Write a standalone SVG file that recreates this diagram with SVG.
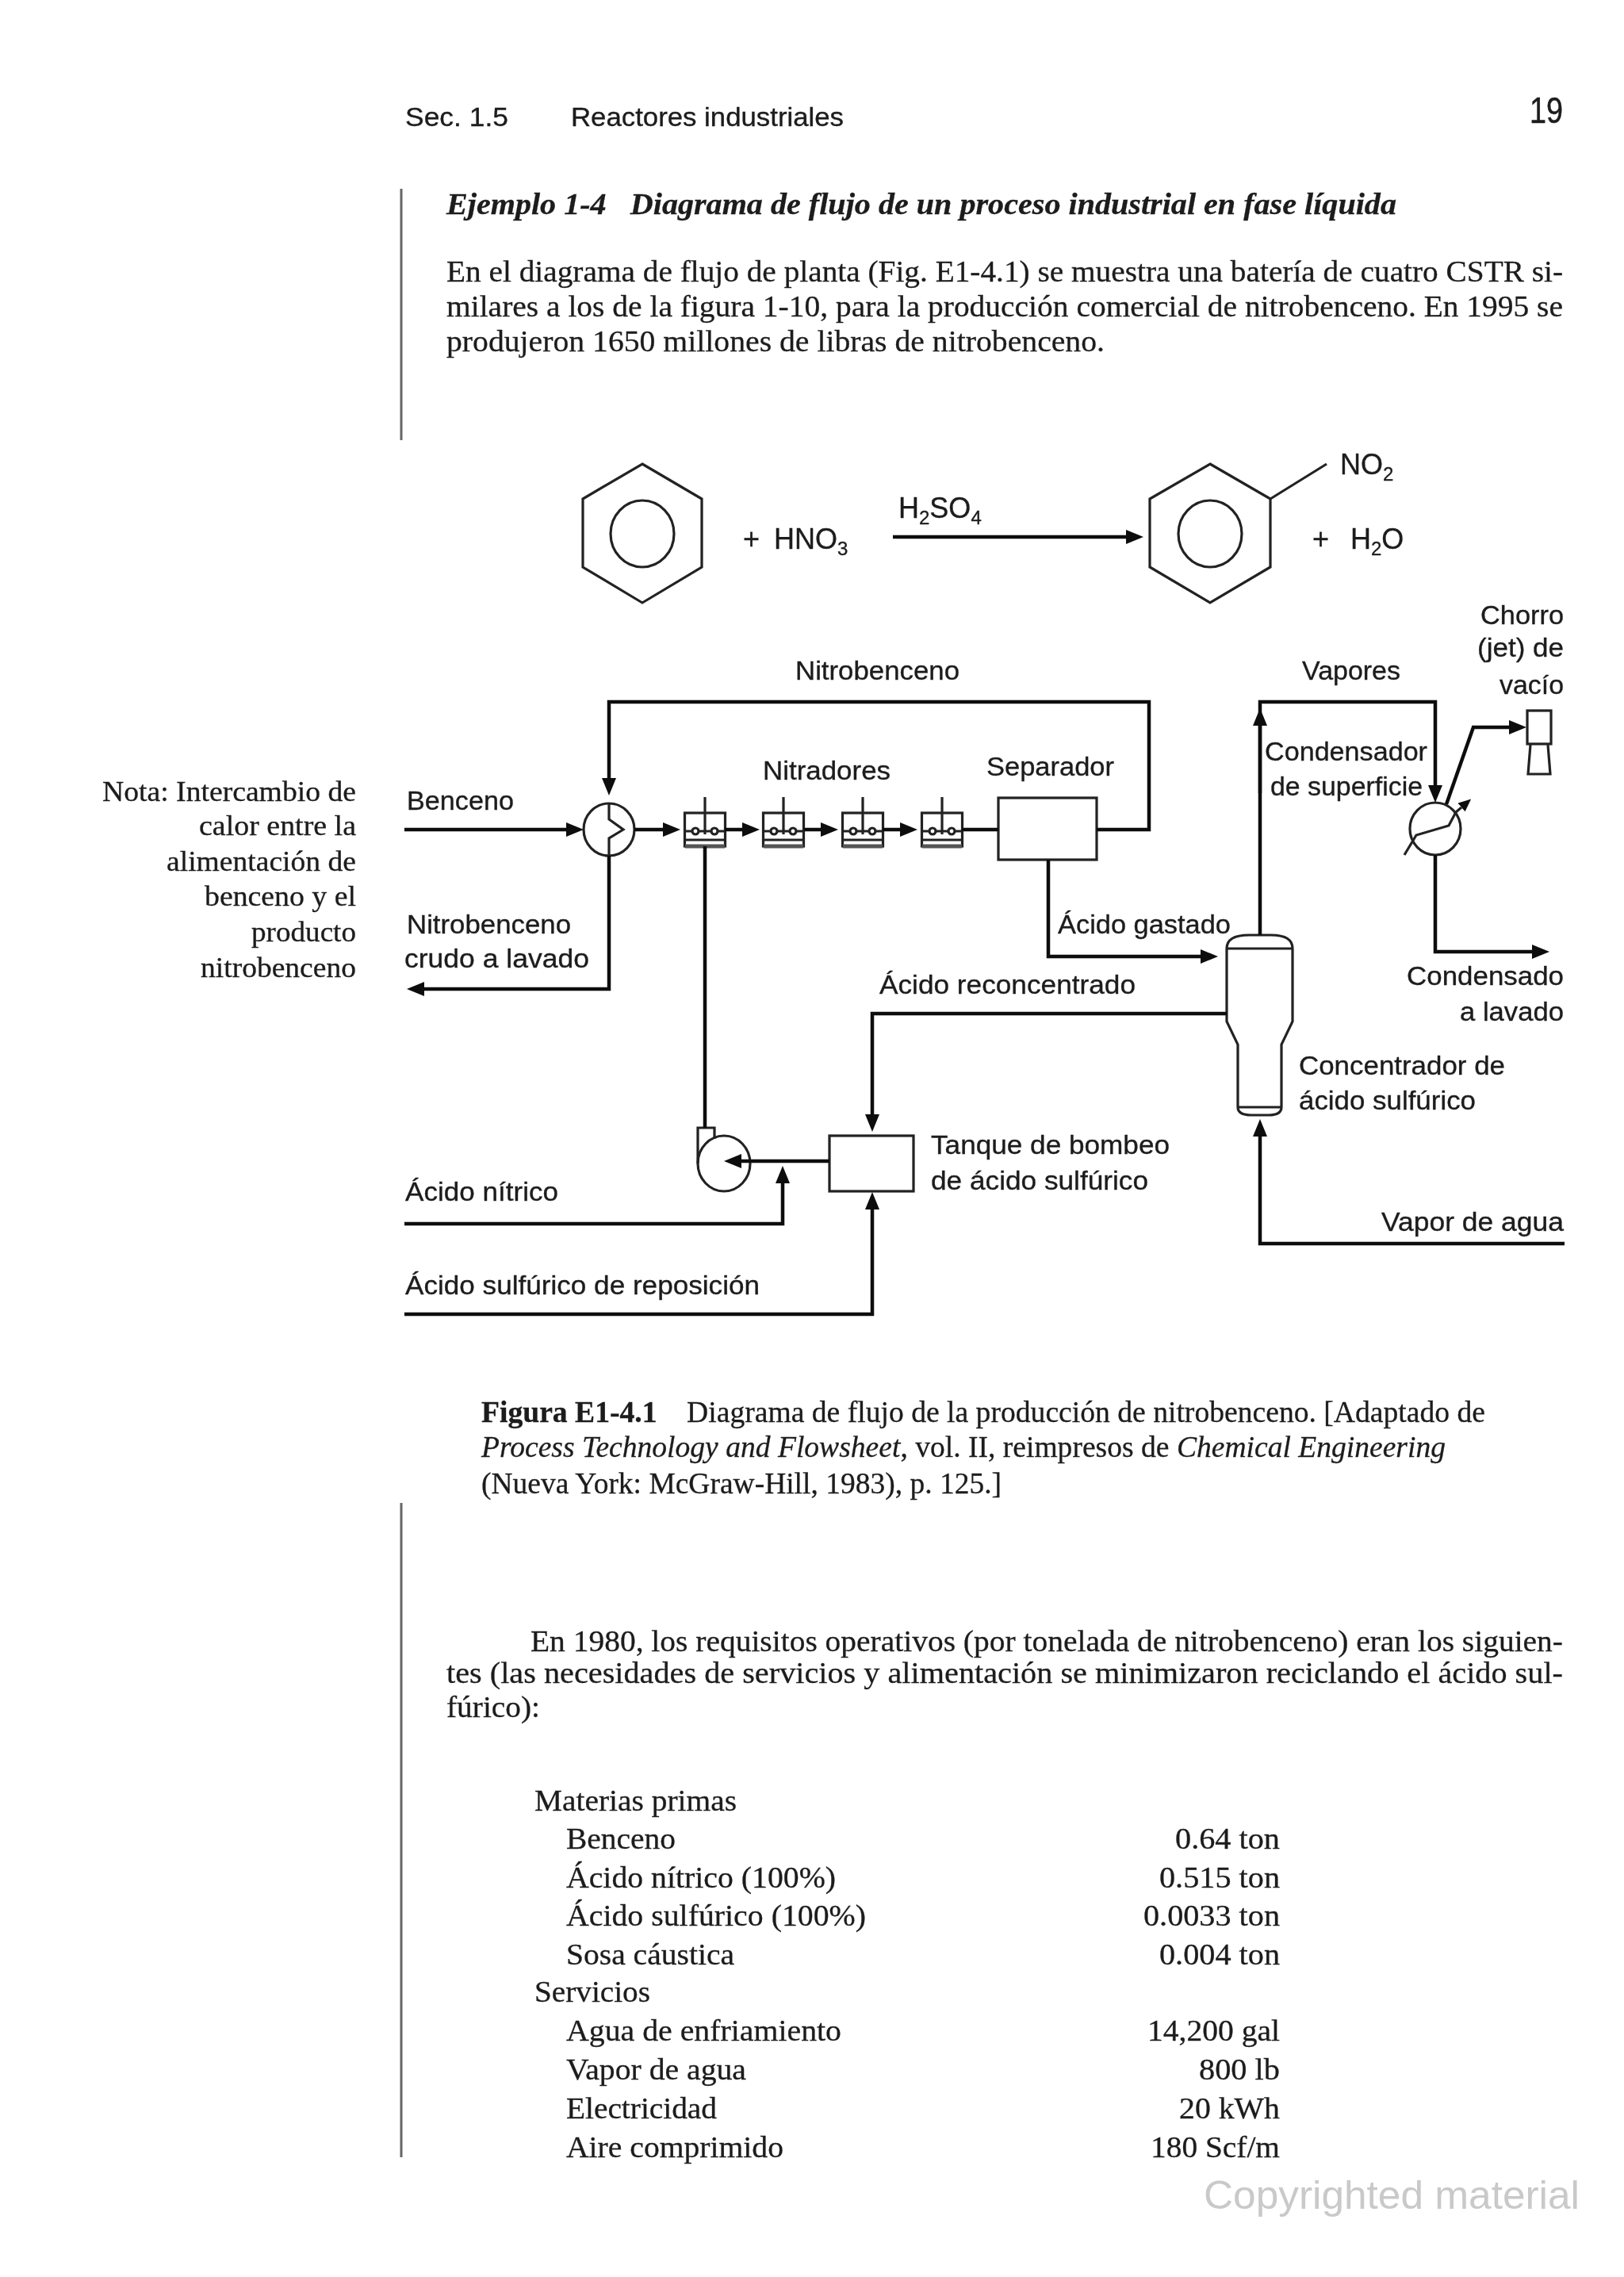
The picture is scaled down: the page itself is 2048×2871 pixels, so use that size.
<svg xmlns="http://www.w3.org/2000/svg" xmlns:xlink="http://www.w3.org/1999/xlink" width="2048" height="2871" viewBox="0 0 2048 2871">
<style>
text{fill:#1c1c1c}
.l{font-family:"Liberation Sans",Arial,sans-serif;font-size:33px;stroke:#1c1c1c;stroke-width:.35}
.h{font-family:"Liberation Sans",Arial,sans-serif;font-size:33px;stroke:#1c1c1c;stroke-width:.35}
.p{font-family:"Liberation Sans",Arial,sans-serif;font-size:46px;stroke:#1c1c1c;stroke-width:.5}
.x{font-size:36px}
.s{font-family:"Liberation Serif","Times New Roman",serif;font-size:38px;stroke:#1c1c1c;stroke-width:.3}
.n{font-family:"Liberation Serif","Times New Roman",serif;font-size:35px;stroke:#1c1c1c;stroke-width:.3}
.t{font-family:"Liberation Serif","Times New Roman",serif;font-size:37px;stroke:#1c1c1c;stroke-width:.3}
.c{font-family:"Liberation Sans",Arial,sans-serif;font-size:50px;fill:#c9c9c9}
.b{font-weight:bold}.i{font-style:italic}
.sub{font-size:24px}
.e{fill:none;stroke:#111;stroke-width:4.5;stroke-linejoin:miter}
.a{marker-end:url(#ah)}
.u{fill:#fff;stroke:#222;stroke-width:3.2}
.o{fill:none;stroke:#222;stroke-width:3.2}
.r{fill:none;stroke:#666;stroke-width:3}
.z{fill:none;stroke:#555;stroke-width:5}
</style>
<defs>
<filter id="soft" x="0" y="0" width="100%" height="100%"><feGaussianBlur stdDeviation="0.7"/></filter>
<marker id="ah" markerUnits="userSpaceOnUse" markerWidth="22" markerHeight="18" refX="0" refY="9" orient="auto"><polygon points="0,0 22,9 0,18" fill="#111"/></marker>
<marker id="sm" markerUnits="userSpaceOnUse" markerWidth="16" markerHeight="14" refX="0" refY="7" orient="auto"><polygon points="0,0 16,7 0,14" fill="#111"/></marker>
<g id="nitrator">
<rect x="-25.500" y="-21" width="51" height="42" class="o"/>
<path d="M0 -41V6M-25 2H-16M-8 2H8M16 2H25M-25 13H25" class="o"/>
<path d="M-25 21H25" class="z"/>
<circle cx="-12" cy="2" r="4" class="o"/><circle cx="12" cy="2" r="4" class="o"/>
</g>
</defs>
<rect width="2048" height="2871" fill="#fff"/>
<g filter="url(#soft)">
<g id="page-text">
<text class="h" x="511" y="159" textLength="130" lengthAdjust="spacingAndGlyphs">Sec. 1.5</text>
<text class="h" x="720" y="159" textLength="344" lengthAdjust="spacingAndGlyphs">Reactores industriales</text>
<text class="p" x="1929" y="155" textLength="42" lengthAdjust="spacingAndGlyphs">19</text>
<text class="s b i" x="563" y="270" textLength="1198" lengthAdjust="spacingAndGlyphs">Ejemplo 1-4 &#160; Diagrama de flujo de un proceso industrial en fase líquida</text>
<text class="s" x="563" y="355" textLength="1408" lengthAdjust="spacingAndGlyphs">En el diagrama de flujo de planta (Fig. E1-4.1) se muestra una batería de cuatro CSTR si-</text>
<text class="s" x="563" y="399" textLength="1408" lengthAdjust="spacingAndGlyphs">milares a los de la figura 1-10, para la producción comercial de nitrobenceno. En 1995 se</text>
<text class="s" x="563" y="443" textLength="830" lengthAdjust="spacingAndGlyphs">produjeron 1650 millones de libras de nitrobenceno.</text>
<text class="n" x="129" y="1010" textLength="320" lengthAdjust="spacingAndGlyphs">Nota: Intercambio de</text>
<text class="n" x="251" y="1053" textLength="198" lengthAdjust="spacingAndGlyphs">calor entre la</text>
<text class="n" x="210" y="1098" textLength="239" lengthAdjust="spacingAndGlyphs">alimentación de</text>
<text class="n" x="258" y="1142" textLength="191" lengthAdjust="spacingAndGlyphs">benceno y el</text>
<text class="n" x="317" y="1187" textLength="132" lengthAdjust="spacingAndGlyphs">producto</text>
<text class="n" x="253" y="1232" textLength="196" lengthAdjust="spacingAndGlyphs">nitrobenceno</text>
<text class="s" x="607" y="1793" textLength="1266" lengthAdjust="spacingAndGlyphs"><tspan class="b">Figura E1-4.1</tspan> &#160; &#160;Diagrama de flujo de la producción de nitrobenceno. [Adaptado de</text>
<text class="s" x="607" y="1837" textLength="1216" lengthAdjust="spacingAndGlyphs"><tspan class="i">Process Technology and Flowsheet</tspan>, vol. II, reimpresos de <tspan class="i">Chemical Engineering</tspan></text>
<text class="s" x="607" y="1883" textLength="656" lengthAdjust="spacingAndGlyphs">(Nueva York: McGraw-Hill, 1983), p. 125.]</text>
<text class="s" x="669" y="2082" textLength="1302" lengthAdjust="spacingAndGlyphs">En 1980, los requisitos operativos (por tonelada de nitrobenceno) eran los siguien-</text>
<text class="s" x="563" y="2122" textLength="1408" lengthAdjust="spacingAndGlyphs">tes (las necesidades de servicios y alimentación se minimizaron reciclando el ácido sul-</text>
<text class="s" x="563" y="2165" textLength="118" lengthAdjust="spacingAndGlyphs">fúrico):</text>
<text class="t" x="674" y="2283" textLength="255" lengthAdjust="spacingAndGlyphs">Materias primas</text>
<text class="t" x="714" y="2331" textLength="138" lengthAdjust="spacingAndGlyphs">Benceno</text>
<text class="t" x="714" y="2380" textLength="340" lengthAdjust="spacingAndGlyphs">Ácido nítrico (100%)</text>
<text class="t" x="714" y="2428" textLength="378" lengthAdjust="spacingAndGlyphs">Ácido sulfúrico (100%)</text>
<text class="t" x="714" y="2477" textLength="212" lengthAdjust="spacingAndGlyphs">Sosa cáustica</text>
<text class="t" x="674" y="2524" textLength="146" lengthAdjust="spacingAndGlyphs">Servicios</text>
<text class="t" x="714" y="2573" textLength="347" lengthAdjust="spacingAndGlyphs">Agua de enfriamiento</text>
<text class="t" x="714" y="2622" textLength="227" lengthAdjust="spacingAndGlyphs">Vapor de agua</text>
<text class="t" x="714" y="2671" textLength="190" lengthAdjust="spacingAndGlyphs">Electricidad</text>
<text class="t" x="714" y="2720" textLength="274" lengthAdjust="spacingAndGlyphs">Aire comprimido</text>
<text class="t" x="1482" y="2331" textLength="132" lengthAdjust="spacingAndGlyphs">0.64 ton</text>
<text class="t" x="1462" y="2380" textLength="152" lengthAdjust="spacingAndGlyphs">0.515 ton</text>
<text class="t" x="1442" y="2428" textLength="172" lengthAdjust="spacingAndGlyphs">0.0033 ton</text>
<text class="t" x="1462" y="2477" textLength="152" lengthAdjust="spacingAndGlyphs">0.004 ton</text>
<text class="t" x="1447" y="2573" textLength="167" lengthAdjust="spacingAndGlyphs">14,200 gal</text>
<text class="t" x="1512" y="2622" textLength="102" lengthAdjust="spacingAndGlyphs">800 lb</text>
<text class="t" x="1487" y="2671" textLength="127" lengthAdjust="spacingAndGlyphs">20 kWh</text>
<text class="t" x="1451" y="2720" textLength="163" lengthAdjust="spacingAndGlyphs">180 Scf/m</text>
<text class="c" x="1518" y="2785" textLength="474" lengthAdjust="spacingAndGlyphs">Copyrighted material</text>
<path d="M506 238V555M506 1895V2720" class="r"/>
</g>
<g id="benceno-reactivo"><polygon class="o" points="810,585 885,629 885,715 810,760 735,715 735,629"/><ellipse class="o" cx="810" cy="673" rx="40" ry="42"/></g>
<g id="nitrobenceno-producto"><polygon class="o" points="1526,585 1602,629 1602,715 1526,760 1450,715 1450,629"/><ellipse class="o" cx="1526" cy="673" rx="40" ry="42"/><path class="o" d="M1602 629L1673 585"/></g>
<g id="reaccion-texto">
<text class="l x" x="937" y="692">+</text>
<text class="l x" x="976" y="692">HNO<tspan class="sub" dy="8">3</tspan></text>
<text class="l x" x="1133" y="653">H<tspan class="sub" dy="8">2</tspan><tspan dy="-8">SO</tspan><tspan class="sub" dy="8">4</tspan></text>
<text class="l x" x="1690" y="598">NO<tspan class="sub" dy="8">2</tspan></text>
<text class="l x" x="1655" y="692">+</text>
<text class="l x" x="1703" y="692">H<tspan class="sub" dy="8">2</tspan><tspan dy="-8">O</tspan></text>
</g>
<g id="intercambiador"><ellipse class="o" cx="768" cy="1046" rx="32" ry="33"/><path class="o" d="M768 1013V1033L786 1046L768 1057V1079"/></g>
<g id="nitrador-1"><use xlink:href="#nitrator" href="#nitrator" x="889" y="1046"/></g>
<g id="nitrador-2"><use xlink:href="#nitrator" href="#nitrator" x="988" y="1046"/></g>
<g id="nitrador-3"><use xlink:href="#nitrator" href="#nitrator" x="1088" y="1046"/></g>
<g id="nitrador-4"><use xlink:href="#nitrator" href="#nitrator" x="1188" y="1046"/></g>
<g id="separador"><rect class="o" x="1259" y="1006" width="124" height="78"/></g>
<g id="concentrador"><path class="o" d="M1547 1196Q1547 1179 1575 1179H1603Q1630 1179 1630 1196V1288L1616 1317V1396Q1616 1406 1600 1406H1578Q1561 1406 1561 1396V1317L1547 1288Z"/><path class="o" d="M1547 1196H1630M1561 1396H1616"/></g>
<g id="condensador"><ellipse class="o" cx="1810" cy="1045" rx="32" ry="33"/><path class="o" d="M1771 1078L1786 1053L1827 1041L1836 1024L1843 1018" marker-end="url(#sm)"/></g>
<g id="eyector"><rect class="o" x="1926" y="896" width="30" height="42"/><path class="o" d="M1930 939L1927 976H1955L1952 939"/></g>
<g id="bomba"><ellipse class="o" cx="913" cy="1467" rx="33" ry="35"/><path class="o" d="M880 1467V1422H901V1436"/></g>
<g id="tanque"><rect class="o" x="1046" y="1432" width="106" height="70"/></g>
<g id="connectors">
<path class="e a" d="M1126 677H1420"/>
<path class="e a" d="M1383 1046H1449V885H768V981"/>
<path class="e a" d="M510 1046H714"/>
<path class="e a" d="M768 1079V1247H535"/>
<path class="e a" d="M800 1046H836"/>
<path class="e a" d="M914 1046H936"/>
<path class="e a" d="M1014 1046H1035"/>
<path class="e a" d="M1113 1046H1135"/>
<path class="e" d="M1213 1046H1259"/>
<path class="e" d="M889 1067V1422"/>
<path class="e a" d="M1322 1084V1206H1514"/>
<path class="e a" d="M1589 1179V885H1810V990"/>
<path class="e a" d="M1589 1000V915"/>
<path class="e a" d="M1810 1078V1200H1932"/>
<path class="e a" d="M1824 1014L1858 917H1903"/>
<path class="e a" d="M1547 1278H1100V1405"/>
<path class="e a" d="M1046 1464H935"/>
<path class="e a" d="M510 1543H987V1492"/>
<path class="e a" d="M510 1657H1100V1525"/>
<path class="e a" d="M1973 1568H1589V1433"/>
</g>
<g id="etiquetas">
<text class="l" x="1003" y="857" textLength="207" lengthAdjust="spacingAndGlyphs">Nitrobenceno</text>
<text class="l" x="1642" y="857" textLength="124" lengthAdjust="spacingAndGlyphs">Vapores</text>
<text class="l" x="1867" y="787" textLength="105" lengthAdjust="spacingAndGlyphs">Chorro</text>
<text class="l" x="1863" y="828" textLength="109" lengthAdjust="spacingAndGlyphs">(jet) de</text>
<text class="l" x="1891" y="875" textLength="81" lengthAdjust="spacingAndGlyphs">vacío</text>
<text class="l" x="513" y="1021" textLength="135" lengthAdjust="spacingAndGlyphs">Benceno</text>
<text class="l" x="962" y="983" textLength="161" lengthAdjust="spacingAndGlyphs">Nitradores</text>
<text class="l" x="1244" y="978" textLength="161" lengthAdjust="spacingAndGlyphs">Separador</text>
<text class="l" x="513" y="1177" textLength="207" lengthAdjust="spacingAndGlyphs">Nitrobenceno</text>
<text class="l" x="510" y="1220" textLength="233" lengthAdjust="spacingAndGlyphs">crudo a lavado</text>
<text class="l" x="1109" y="1253" textLength="323" lengthAdjust="spacingAndGlyphs">Ácido reconcentrado</text>
<text class="l" x="1334" y="1177" textLength="218" lengthAdjust="spacingAndGlyphs">Ácido gastado</text>
<text class="l" x="1595" y="959" textLength="205" lengthAdjust="spacingAndGlyphs">Condensador</text>
<text class="l" x="1602" y="1003" textLength="192" lengthAdjust="spacingAndGlyphs">de superficie</text>
<text class="l" x="1774" y="1242" textLength="198" lengthAdjust="spacingAndGlyphs">Condensado</text>
<text class="l" x="1841" y="1287" textLength="131" lengthAdjust="spacingAndGlyphs">a lavado</text>
<text class="l" x="1638" y="1355" textLength="260" lengthAdjust="spacingAndGlyphs">Concentrador de</text>
<text class="l" x="1638" y="1399" textLength="223" lengthAdjust="spacingAndGlyphs">ácido sulfúrico</text>
<text class="l" x="1174" y="1455" textLength="301" lengthAdjust="spacingAndGlyphs">Tanque de bombeo</text>
<text class="l" x="1174" y="1500" textLength="274" lengthAdjust="spacingAndGlyphs">de ácido sulfúrico</text>
<text class="l" x="511" y="1514" textLength="193" lengthAdjust="spacingAndGlyphs">Ácido nítrico</text>
<text class="l" x="511" y="1632" textLength="447" lengthAdjust="spacingAndGlyphs">Ácido sulfúrico de reposición</text>
<text class="l" x="1742" y="1552" textLength="230" lengthAdjust="spacingAndGlyphs">Vapor de agua</text>
</g>
</g>
</svg>
